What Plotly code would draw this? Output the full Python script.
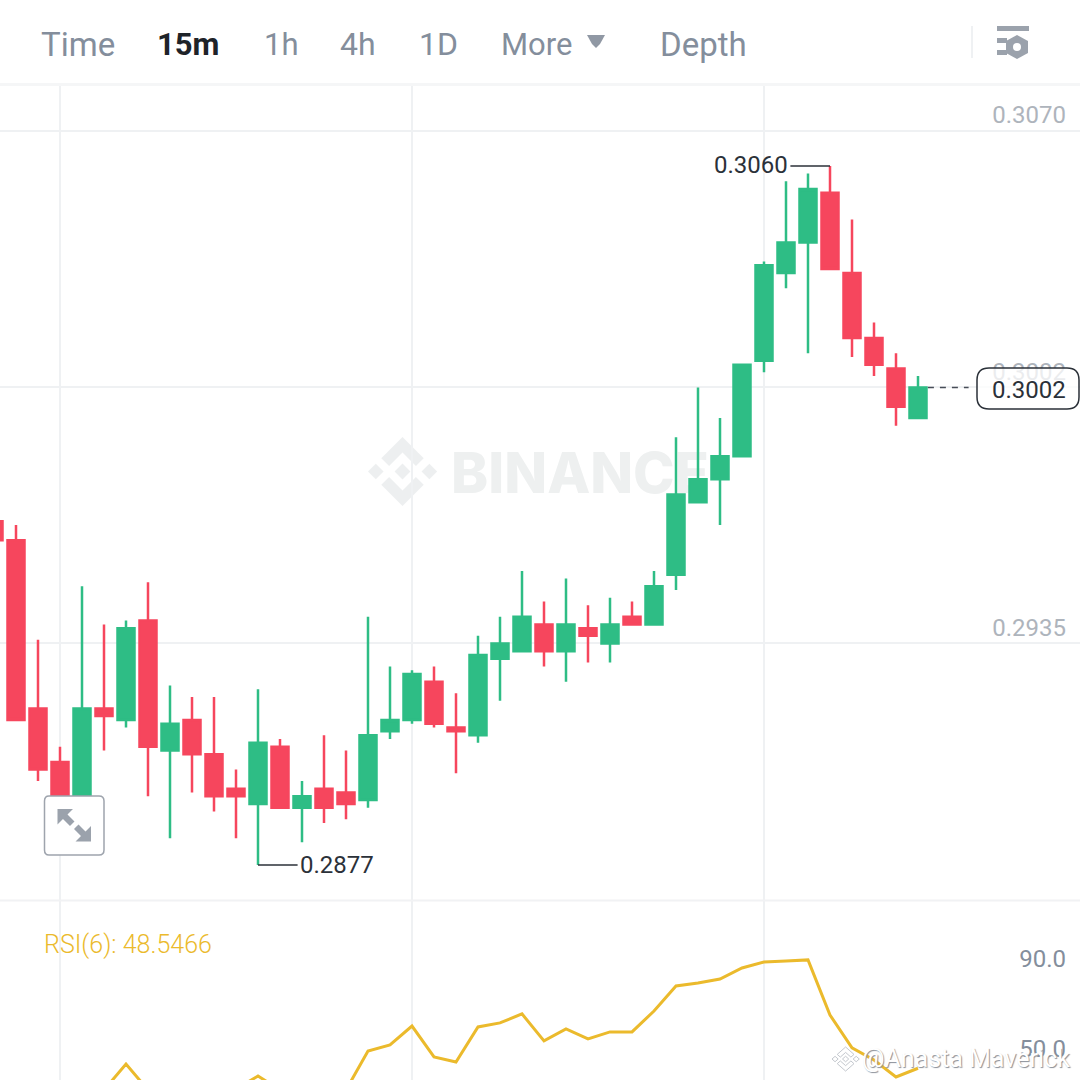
import plotly.graph_objects as go

# ---------- data ----------
candle_index = list(range(-1, 42))
open_ = [0.2967, 0.2962, 0.2918, 0.2904, 0.2893, 0.2918, 0.2915, 0.2941, 0.2907, 0.2915, 0.2906,
         0.2897, 0.2893, 0.2908, 0.2892, 0.2897, 0.2896, 0.2894, 0.2912, 0.2915, 0.2925, 0.2913,
         0.2911, 0.2931, 0.2933, 0.2940, 0.2933, 0.2939, 0.2935, 0.2942, 0.2940, 0.2953, 0.2972,
         0.2978, 0.2984, 0.3009, 0.3032, 0.3040, 0.3053, 0.3032, 0.3015, 0.3007, 0.2994]
high = [0.2967, 0.2966, 0.2936, 0.2908, 0.2950, 0.2940, 0.2941, 0.2951, 0.2924, 0.2921, 0.2921,
        0.2902, 0.2923, 0.2910, 0.2899, 0.2911, 0.2907, 0.2942, 0.2929, 0.2928, 0.2929, 0.2922,
        0.2937, 0.2942, 0.2954, 0.2946, 0.2952, 0.2945, 0.2947, 0.2946, 0.2954, 0.2989, 0.3002,
        0.2994, 0.3008, 0.3035, 0.3056, 0.3058, 0.3060, 0.3046, 0.3019, 0.3011, 0.3005]
low = [0.2962, 0.2915, 0.2899, 0.2891, 0.2892, 0.2907, 0.2913, 0.2895, 0.2884, 0.2896, 0.2891,
       0.2884, 0.2877, 0.2892, 0.2883, 0.2888, 0.2889, 0.2892, 0.2910, 0.2914, 0.2913, 0.2901,
       0.2909, 0.2920, 0.2933, 0.2929, 0.2925, 0.2930, 0.2930, 0.2940, 0.2940, 0.2949, 0.2972,
       0.2966, 0.2984, 0.3006, 0.3028, 0.3011, 0.3033, 0.3010, 0.3005, 0.2992, 0.2994]
close = [0.2962, 0.2915, 0.2902, 0.2893, 0.2918, 0.2916, 0.2939, 0.2908, 0.2914, 0.2906, 0.2895,
         0.2895, 0.2909, 0.2892, 0.2895, 0.2892, 0.2893, 0.2911, 0.2915, 0.2927, 0.2914, 0.2912,
         0.2932, 0.2935, 0.2942, 0.2933, 0.2940, 0.2937, 0.2940, 0.2940, 0.2950, 0.2974, 0.2978,
         0.2984, 0.3008, 0.3034, 0.3040, 0.3054, 0.3033, 0.3015, 0.3008, 0.2997, 0.3002]

rsi_index = list(range(3, 42))
rsi_values = [38.0, 38.9, 50.4, 38.9, 37.0, 37.0, 35.0, 39.3, 45.1, 38.9, 36.0, 35.0, 38.9, 56.2,
              58.9, 67.3, 53.6, 51.3, 66.9, 68.7, 72.7, 60.7, 66.0, 61.6, 64.7, 64.7, 74.0, 85.1,
              86.4, 88.2, 93.1, 95.8, 96.2, 96.7, 72.2, 57.6, 52.2, 44.7, 48.5466]

price_ticks = [0.30692, 0.30021, 0.29351, 0.28678]
price_labels = ["0.3070", "0.3002", "0.2935", "0.2867"]
rsi_ticks = [90, 50]
rsi_labels = ["90.0", "50.0"]
time_ticks = [2, 18, 34]
tabs = [("Time", 41, "#848E9C", 400, 33), ("15m", 157, "#1E2329", 700, 31), ("1h", 264, "#848E9C", 400, 31),
        ("4h", 340, "#848E9C", 400, 32), ("1D", 419, "#848E9C", 400, 32), ("More", 501, "#848E9C", 400, 31),
        ("Depth", 660, "#848E9C", 400, 33)]

# ---------- styling ----------
GREEN, RED = "#2EBD85", "#F6465D"
GRID = "#EFF1F3"
FONT = "Roboto"
W = H = 1080


def px(x):
    return x / W


def py(y):
    return 1 - y / H


def poly(points):
    return "M " + " L ".join(f"{px(x):.5f} {py(y):.5f}" for x, y in points) + " Z"


fig = go.Figure()
fig.add_trace(go.Candlestick(
    x=candle_index, open=open_, high=high, low=low, close=close,
    increasing=dict(line=dict(color=GREEN, width=2.5), fillcolor=GREEN),
    decreasing=dict(line=dict(color=RED, width=2.5), fillcolor=RED),
    xaxis="x", yaxis="y", hoverinfo="skip", showlegend=False))
fig.add_trace(go.Scatter(
    x=rsi_index, y=rsi_values, mode="lines", line=dict(color="#EBBA2C", width=3),
    xaxis="x2", yaxis="y2", hoverinfo="skip", showlegend=False))

x_range = [-16 / 22, (W - 16) / 22]
axis_x = dict(range=x_range, tickmode="array", tickvals=time_ticks, showticklabels=False,
              showgrid=True, gridcolor=GRID, gridwidth=1.5, zeroline=False, showline=False, ticks="")
tick_font = dict(family=FONT, size=24, color="#AEB4BC")
fig.update_layout(
    width=W, height=H, margin=dict(l=0, r=0, t=0, b=0, pad=0), paper_bgcolor="white",
    plot_bgcolor="rgba(0,0,0,0)", boxgap=0.227, boxgroupgap=0, showlegend=False, hovermode=False,
    xaxis=dict(axis_x, domain=[0, 1], anchor="y", rangeslider=dict(visible=False)),
    xaxis2=dict(axis_x, domain=[0, 1], anchor="y2"),
    yaxis=dict(domain=[py(900), py(85)], range=[0.286785, 0.30812], side="right", anchor="x",
               tickmode="array", tickvals=price_ticks, ticktext=price_labels,
               ticklabelposition="inside", ticklabelstandoff=11, ticklabelshift=-16, tickfont=tick_font,
               showgrid=True, gridcolor=GRID, gridwidth=1.5, zeroline=False, showline=False, ticks=""),
    yaxis2=dict(domain=[0, py(900)], range=[43.33, 123.33], side="right", anchor="x2",
                tickmode="array", tickvals=rsi_ticks, ticktext=rsi_labels,
                ticklabelposition="inside", ticklabelstandoff=11, ticklabelshift=-16,
                tickfont=dict(family=FONT, size=24, color="#848E9C"),
                showgrid=False, zeroline=False, showline=False, ticks=""),
)

shapes = []
annotations = []


def text(t, x, y, size, color, anchor="left", weight=400, **kw):
    font = dict(family=FONT, size=size, color=color, weight=weight)
    font.update(kw)
    annotations.append(dict(text=t, x=px(x), y=py(y), xref="paper", yref="paper", xanchor=anchor,
                            yanchor="middle", showarrow=False, font=font, borderpad=0, borderwidth=0))


def rect(x0, y0, x1, y1, fill, layer="above"):
    shapes.append(dict(type="rect", xref="paper", yref="paper", x0=px(x0), x1=px(x1), y0=py(y0), y1=py(y1),
                       fillcolor=fill, line=dict(width=0), layer=layer))


def polygon(points, fill="rgba(0,0,0,0)", line=None, layer="above"):
    shapes.append(dict(type="path", path=poly(points), xref="paper", yref="paper", fillcolor=fill,
                       line=line or dict(width=0), layer=layer))


# header
for t, x, c, w, s in tabs:
    text(t, x, 44, s, c, weight=w)
rect(0, 83, W, 86, "#F5F6F7")
rect(0, 899.5, W, 901.5, "#F1F2F4")
rect(971, 26, 973, 58, "#EFF1F3")
polygon([(587, 35), (605, 35), (600, 44), (596, 48), (592, 44)], fill="#9098A4")
# settings icon
ICON = "#9BA2AC"
rect(997, 26, 1029, 31, ICON)
rect(997, 38, 1007, 43, ICON)
rect(997, 50, 1007, 55, ICON)
polygon([(1017, 35), (1028, 41), (1028, 53), (1017, 59), (1006, 53), (1006, 41)], fill=ICON)
shapes.append(dict(type="circle", xref="paper", yref="paper", x0=px(1013), x1=px(1021), y0=py(43), y1=py(51),
                   fillcolor="white", line=dict(width=0)))

# Binance watermark logo
LOGO = [
    [(38.73, 53.2), (63.32, 28.62), (87.92, 53.22), (102.22, 38.91), (63.32, 0), (24.42, 38.9)],
    [(0, 63.31), (14.3, 49), (28.61, 63.31), (14.3, 77.61)],
    [(98.28, 63.32), (112.58, 49.01), (126.89, 63.31), (112.58, 77.62)],
    [(63.3, 48.8), (77.8, 63.3), (63.3, 77.8), (48.8, 63.3)],
    [(38.73, 73.41), (63.32, 98), (87.92, 73.4), (102.23, 87.69), (63.32, 126.61), (24.41, 87.73)],
]
for part in LOGO:
    polygon([(368 + 0.545 * a, 437 + 0.545 * b) for a, b in part], fill="rgba(225,228,230,0.6)", layer="below")
shapes.append(dict(type="rect", xref="paper", yref="paper", x0=px(440), x1=px(720), y0=py(445), y1=py(497),
                   fillcolor="rgba(0,0,0,0)", line=dict(width=0), layer="below",
                   label=dict(text="BINANCE", textposition="middle center",
                              font=dict(family="Inter", size=56, color="#EEF0F0", weight=800))))

# high/low markers
shapes.append(dict(type="line", xref="x", yref="y", x0=37, x1=35.2, y0=0.3060, y1=0.3060,
                   line=dict(color="#2B3139", width=1.5)))
shapes.append(dict(type="line", xref="x", yref="y", x0=11, x1=12.8, y0=0.2877, y1=0.2877,
                   line=dict(color="#2B3139", width=1.5)))
text("0.3060", 788, 165, 24, "#2B3139", anchor="right")
text("0.2877", 300, 865, 24, "#2B3139")

# last price
shapes.append(dict(type="line", xref="x", yref="y", x0=41.45, x1=43.3, y0=0.3002, y1=0.3002,
                   line=dict(color="#474D57", width=1.5, dash="6px,6px")))
shapes.append(dict(type="path", xref="paper", yref="paper", fillcolor="rgba(255,255,255,0.75)",
                   line=dict(color="#2B3139", width=1.5),
                   path=("M {} {} L {} {} Q {} {} {} {} L {} {} Q {} {} {} {} L {} {} Q {} {} {} {} L {} {} Q {} {} {} {} Z"
                         .format(px(989), py(368), px(1067), py(368), px(1079), py(368), px(1079), py(380),
                                 px(1079), py(397), px(1079), py(409), px(1067), py(409),
                                 px(989), py(409), px(977), py(409), px(977), py(397),
                                 px(977), py(380), px(977), py(368), px(989), py(368)))))
text("0.3002", 1066, 390, 24, "#2B3139", anchor="right")

# expand button
shapes.append(dict(type="path", xref="paper", yref="paper", fillcolor="white",
                   line=dict(color="#9EA4AD", width=1.5),
                   path=("M {} {} L {} {} Q {} {} {} {} L {} {} Q {} {} {} {} L {} {} Q {} {} {} {} L {} {} Q {} {} {} {} Z"
                         .format(px(49), py(796), px(99), py(796), px(104), py(796), px(104), py(801),
                                 px(104), py(850), px(104), py(855), px(99), py(855),
                                 px(49), py(855), px(44.5), py(855), px(44.5), py(850),
                                 px(44.5), py(801), px(44.5), py(796), px(49), py(796)))))
polygon([(57.5, 809), (73, 809), (67.5, 814.5), (74.5, 821.5), (70, 826), (63, 819), (57.5, 824.5)], fill=ICON)
polygon([(91, 841.5), (75.5, 841.5), (81, 836), (74, 829), (78.5, 824.5), (85.5, 831.5), (91, 826)], fill=ICON)

# RSI legend
text("RSI(6): 48.5466", 44, 944, 25, "#EBBA2C", weight=300)

# user watermark
for part in LOGO:
    polygon([(832 + 0.215 * a, 1047 + 0.19 * b) for a, b in part], line=dict(color="#C4C8CE", width=1))
text("@Anasta Maverick", 862, 1058, 25, "#FFFFFF", shadow="1px 1px 1px #8a8f98")

fig.update_layout(shapes=shapes, annotations=annotations)
fig.write_html("out.html", config=dict(displayModeBar=False, staticPlot=True),
               post_script="document.body.style.margin='0';document.body.style.overflow='hidden';")
